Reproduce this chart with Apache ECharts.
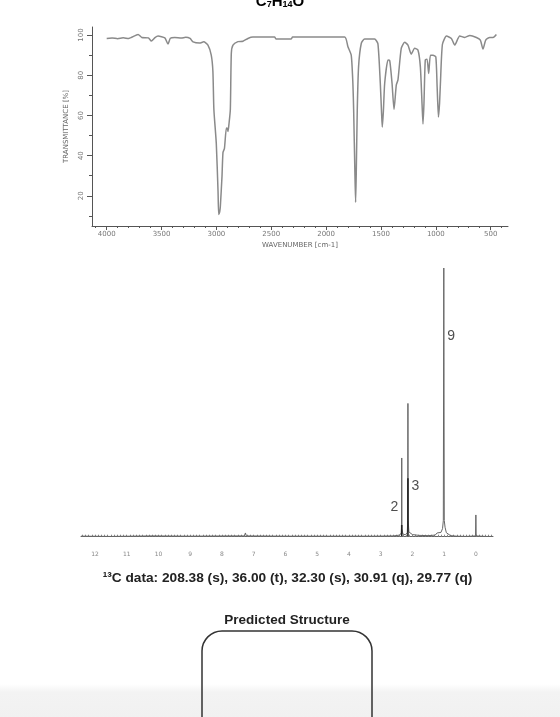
<!DOCTYPE html>
<html>
<head>
<meta charset="utf-8">
<script src="https://cdn.jsdelivr.net/npm/echarts@6/dist/echarts.min.js"></script>
<style>
  html, body { margin: 0; padding: 0; background: #fff; }
  #main { width: 560px; height: 717px; }
</style>
</head>
<body>
<div id="main"></div>
<script>
    // IR spectrum (wavenumber cm-1, transmittance %)
    var irWavenumber = [4000, 3950, 3900, 3850, 3800, 3714, 3680, 3620, 3593, 3560, 3532, 3470, 3441, 3420, 3380, 3320, 3280, 3240, 3213, 3153, 3116, 3077, 3047, 3032, 3023, 3001, 2985, 2979, 2970, 2964, 2949, 2940, 2927, 2909, 2900, 2894, 2885, 2873, 2864, 2849, 2804, 2758, 2713, 2667, 2470, 2455, 2320, 2305, 1831, 1801, 1771, 1756, 1749, 1737, 1731, 1725, 1716, 1704, 1679, 1649, 1558, 1528, 1506, 1495, 1488, 1478, 1466, 1436, 1420, 1399, 1381, 1360, 1345, 1315, 1284, 1254, 1224, 1193, 1163, 1141, 1125, 1117, 1108, 1096, 1080, 1065, 1049, 1025, 1000, 988, 976, 966, 958, 940, 903, 858, 828, 782, 736, 690, 630, 594, 570, 545, 509, 478, 448]
    var irTransmittance = [98.3, 98.5, 98.2, 98.6, 98.3, 100.3, 98.8, 98.6, 97.0, 98.7, 99.5, 98.6, 95.5, 98.4, 98.8, 98.5, 98.9, 98.3, 96.6, 96.0, 96.6, 95.0, 90.0, 82, 63, 46, 22, 10.7, 12, 14.8, 29.7, 41.6, 43.5, 53.7, 53.5, 52, 56, 63, 91, 95, 96.7, 96.9, 98.3, 99, 99, 98, 98, 99, 99, 94.2, 90, 76, 62.8, 30, 16.8, 32, 62.8, 84.3, 95.9, 98, 98, 95.7, 76, 62, 54.2, 62, 76, 87.6, 87.3, 76, 63, 75.2, 77.7, 93.4, 96.4, 95, 90.5, 93.4, 92.6, 84.3, 65, 55.8, 66, 87.6, 88, 80.9, 90, 90, 89.1, 74.3, 59.2, 66, 76, 95.3, 99.5, 98.3, 95, 99.5, 98.8, 99.8, 98.8, 97.5, 93, 97.5, 98.8, 98.8, 100.3]
    var irXLabels = [500, 1000, 1500, 2000, 2500, 3000, 3500, 4000]
    var irYLabels = [20, 40, 60, 80, 100]

    // 1H NMR spectrum (ppm, relative intensity)
    var nmrPpm = [12.44, 11.5, 10.2, 9.0, 7.6, 7.29, 7.26, 7.23, 6.0, 4.58, 4.55, 4.52, 3.2, 2.6, 2.4, 2.35, 2.342, 2.335, 2.328, 2.3, 2.22, 2.16, 2.148, 2.14, 2.132, 2.11, 2.0, 1.8, 1.5, 1.28, 1.22, 1.17, 1.1, 1.05, 1.025, 1.01, 0.995, 0.97, 0.93, 0.87, 0.8, 0.6, 0.3, 0.01, 0.0, -0.01, -0.3, -0.54]
    var nmrIntensity = [0.2, 0.1, 0.3, 0.2, 0.3, 0.3, 1.4, 0.3, 0.2, 0.2, 0.9, 0.2, 0.2, 0.3, 0.6, 1.4, 3.5, 29.3, 3.0, 1.0, 0.7, 1.6, 6, 49.6, 6, 1.8, 0.8, 0.5, 0.4, 0.6, 1.4, 0.7, 1.6, 3.0, 6.0, 100, 6.0, 3.5, 1.5, 0.8, 0.4, 0.2, 0.1, 0.3, 8.1, 0.3, 0.1, 0.1]
    // darker lower segments drawn on top of the two ketone peaks
    var nmrInnerPpm = [2.335, 2.14]
    var nmrInnerHeight = [4.4, 21.8]
    var nmrXLabels = [0, 1, 2, 3, 4, 5, 6, 7, 8, 9, 10, 11, 12]
    var nmrPeakLabels = [
        { ppm: 2.335, value: 11, text: '2', side: 'left' },
        { ppm: 2.14, value: 19, text: '3', side: 'right' },
        { ppm: 1.01, value: 74.5, text: '9', side: 'right' }
    ]

    var irMin = 342, irMax = 4134
    var nmrMin = -0.54, nmrMax = 12.44

    function range(a, b, step) {
        var out = []
        for (var v = a; v <= b + 1e-9; v += step) out.push(Math.round(v * 100) / 100)
        return out
    }
    function plain(v) { return String(v) }

    var irData = irWavenumber.map(function (w, i) { return [w, irTransmittance[i]] })
    var nmrData = nmrPpm.map(function (p, i) { return [p, nmrIntensity[i]] })
    var innerData = []
    nmrInnerPpm.forEach(function (p, i) {
        innerData.push([p, 0.3], [p, nmrInnerHeight[i]], [null, null])
    })

    var axisGrey = '#555'
    var labelGrey = '#777'
    var tickFont = { fontFamily: 'DejaVu Sans', fontSize: 7, color: labelGrey, formatter: plain }

    var chart = echarts.init(document.getElementById('main'), null, { renderer: 'canvas' })
    var option = {
        animation: false,
        backgroundColor: '#fff',
        grid: [
            { left: 92, top: 27, width: 416, height: 199 },
            { left: 81, top: 268, width: 412, height: 280 }
        ],
        xAxis: [
            {
                gridIndex: 0, type: 'value', inverse: true, min: irMin, max: irMax,
                name: 'WAVENUMBER [cm-1]', nameLocation: 'middle', nameGap: 16,
                nameTextStyle: { fontFamily: 'DejaVu Sans', fontSize: 7, color: '#666' },
                axisLine: { lineStyle: { color: axisGrey, width: 1 } },
                axisTick: { length: 2, lineStyle: { color: axisGrey }, customValues: range(400, 4100, 100) },
                axisLabel: Object.assign({ margin: 5, customValues: irXLabels }, tickFont),
                splitLine: { show: false }
            },
            {
                gridIndex: 0, type: 'value', inverse: true, min: irMin, max: irMax, position: 'bottom',
                axisLine: { show: false },
                axisTick: { length: 4, lineStyle: { color: axisGrey }, customValues: irXLabels },
                axisLabel: { show: false },
                splitLine: { show: false }
            },
            {
                gridIndex: 1, type: 'value', inverse: true, min: nmrMin, max: nmrMax,
                axisLine: { lineStyle: { color: '#666', width: 1 } },
                axisTick: { inside: true, length: 2, lineStyle: { color: '#888' }, customValues: range(-0.5, 12.4, 0.1) },
                axisLabel: { margin: 3, fontFamily: 'DejaVu Sans', fontSize: 6, color: '#888', customValues: nmrXLabels, formatter: plain },
                splitLine: { show: false }
            }
        ],
        yAxis: [
            {
                gridIndex: 0, type: 'value', min: 5, max: 104,
                name: 'TRANSMITTANCE [%]', nameLocation: 'middle', nameGap: 18, nameRotate: 90,
                nameTextStyle: { fontFamily: 'DejaVu Sans', fontSize: 7, color: '#666' },
                axisLine: { show: true, lineStyle: { color: axisGrey, width: 1 } },
                axisTick: { length: 3, lineStyle: { color: axisGrey }, customValues: range(10, 100, 10) },
                axisLabel: Object.assign({ rotate: 90, margin: 7, customValues: irYLabels }, tickFont),
                splitLine: { show: false }
            },
            {
                gridIndex: 0, type: 'value', min: 5, max: 104, position: 'left',
                axisLine: { show: false },
                axisTick: { show: true, length: 5, lineStyle: { color: axisGrey }, customValues: irYLabels },
                axisLabel: { show: false },
                splitLine: { show: false }
            },
            {
                gridIndex: 1, type: 'value', min: -4.2, max: 100, show: false,
                splitLine: { show: false }
            }
        ],
        series: [
            {
                name: 'IR', type: 'line', xAxisIndex: 0, yAxisIndex: 0,
                data: irData, showSymbol: false, smooth: 0.2,
                lineStyle: { color: '#8a8a8a', width: 1.5 },
                silent: true
            },
            {
                name: 'NMR', type: 'line', xAxisIndex: 2, yAxisIndex: 2,
                data: nmrData, showSymbol: false,
                lineStyle: { color: '#666', width: 1 },
                silent: true
            },
            {
                name: 'NMR inner', type: 'line', xAxisIndex: 2, yAxisIndex: 2,
                data: innerData, showSymbol: false, connectNulls: false,
                lineStyle: { color: '#222', width: 1.6 },
                silent: true
            },
            {
                name: 'peak labels', type: 'scatter', xAxisIndex: 2, yAxisIndex: 2,
                data: nmrPeakLabels.map(function (d) {
                    return { value: [d.ppm, d.value], name: d.text, label: { position: d.side } }
                }),
                symbolSize: 1,
                itemStyle: { color: 'rgba(0,0,0,0)' },
                label: {
                    show: true, formatter: '{b}', distance: 3,
                    fontFamily: 'Liberation Sans', fontSize: 14, color: '#222'
                },
                silent: true
            }
        ],
        graphic: [
            {
                type: 'rect', silent: true, z: 0,
                shape: { x: 0, y: 684, width: 560, height: 33 },
                style: {
                    fill: new echarts.graphic.LinearGradient(0, 0, 0, 1, [
                        { offset: 0, color: '#ffffff' },
                        { offset: 0.25, color: '#f3f3f3' },
                        { offset: 1, color: '#f1f1f1' }
                    ])
                }
            },
            {
                type: 'text', silent: true, z: 10,
                left: 'center', top: -6,
                style: {
                    text: '{b|C}{s|7}{b|H}{s|14}{b|O}',
                    rich: {
                        b: { fontFamily: 'Liberation Sans', fontWeight: 'bold', fontSize: 15, color: '#222', lineHeight: 16 },
                        s: { fontFamily: 'Liberation Sans', fontWeight: 'bold', fontSize: 9, color: '#222', lineHeight: 8, verticalAlign: 'bottom' }
                    }
                }
            },
            {
                type: 'text', silent: true, z: 10,
                x: 287.5, y: 578,
                style: {
                    text: '¹³C data: 208.38 (s), 36.00 (t), 32.30 (s), 30.91 (q), 29.77 (q)',
                    fontFamily: 'Liberation Sans', fontWeight: 'bold', fontSize: 13.7, fill: '#222',
                    align: 'center', verticalAlign: 'middle'
                }
            },
            {
                type: 'text', silent: true, z: 10,
                x: 287, y: 620,
                style: {
                    text: 'Predicted Structure',
                    fontFamily: 'Liberation Sans', fontWeight: 'bold', fontSize: 13.5, fill: '#222',
                    align: 'center', verticalAlign: 'middle'
                }
            },
            {
                type: 'rect', silent: true, z: 5,
                shape: { x: 202, y: 631, width: 170, height: 130, r: 20 },
                style: { fill: 'none', stroke: '#333', lineWidth: 1.5 }
            }
        ]
    }
    chart.setOption(option)
</script>
</body>
</html>
